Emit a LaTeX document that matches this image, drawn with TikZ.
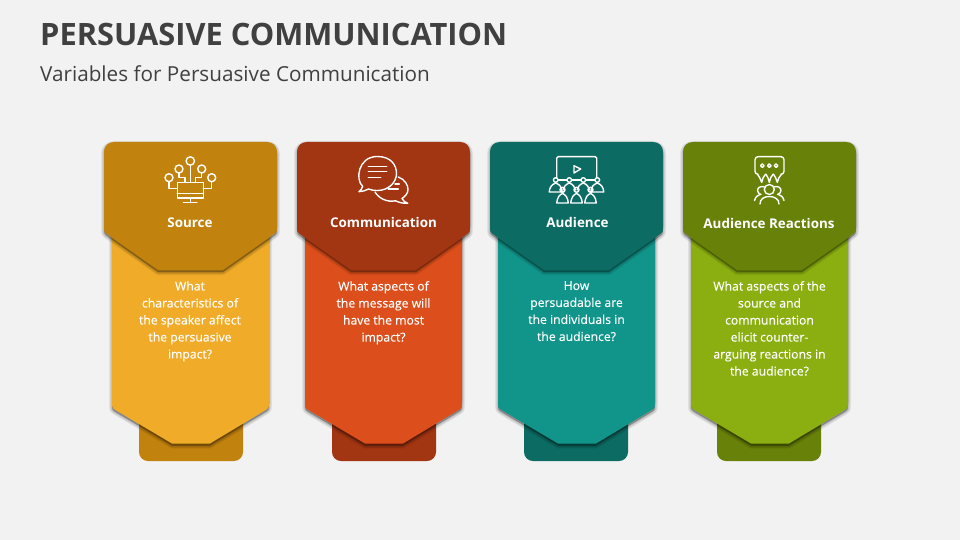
\documentclass[tikz,border=0pt]{standalone}
\usepackage{fontspec}
\setmainfont{Open Sans}
\newfontfamily\semi[FakeBold=0.25]{Open Sans}
\definecolor{bg}{HTML}{F2F2F2}
\definecolor{ink}{HTML}{404040}
\definecolor{darkA}{HTML}{C2820E}\definecolor{lightA}{HTML}{F0AB28}
\definecolor{darkB}{HTML}{A23512}\definecolor{lightB}{HTML}{DC4E1B}
\definecolor{darkC}{HTML}{0C6B63}\definecolor{lightC}{HTML}{11958B}
\definecolor{darkD}{HTML}{688109}\definecolor{lightD}{HTML}{8BAF10}
\tikzset{
  titletext/.style={anchor=west,inner sep=0pt,text=ink,font=\bfseries\fontsize{30.8}{36}\selectfont},
  subtitletext/.style={anchor=west,inner sep=0pt,text=ink,font=\fontsize{20.7}{24}\selectfont},
  headtext/.style={inner sep=0pt,text=white,font=\bfseries\fontsize{13.4}{16}\selectfont},
  bodytext/.style={inner sep=0pt,text=white,align=center,font=\semi\fontsize{12.2}{17}\selectfont},
  icon/.style={draw=white,line width=1.4pt,line cap=round,line join=round},
}
% soft shadow of a closed path given as #1
\newcommand{\softshadow}[1]{%
  \fill[black,opacity=.30,yshift=-2pt] #1;
  \foreach \w in {1.5,3,4.5,6}{\draw[black,opacity=.06,line join=round,line width=\w pt,yshift=-2pt] #1;}
}
\newcommand{\bodypath}{(8,50) -- (8,260) .. controls (8,266) .. (13.2,269.1) -- (68,301.5) -- (106,301.5) -- (159.9,269.1) .. controls (165,266) .. (165,260) -- (165,50) -- cycle}
\newcommand{\headpath}{(0,10) .. controls (0,4) and (4,0) .. (10,0) -- (163,0) .. controls (169,0) and (173,4) .. (173,10) -- (173,84) .. controls (173,90) .. (168.1,93.5) -- (119,128) -- (54,128) -- (4.9,93.5) .. controls (0,90) .. (0,84) -- cycle}
% #1 x offset, #2 dark, #3 light, #4 left edge of the tab
\newcommand{\card}[4]{%
  \begin{scope}[shift={(#1,142)}]
    \fill[#2] (#4,270) -- (#4,310) .. controls (#4,315) and (#4+4,319) .. (#4+9,319) -- (#4+95,319) .. controls (#4+100,319) and (#4+104,315) .. (#4+104,310) -- (#4+104,270) -- cycle;
    \softshadow{\bodypath}
    \fill[#3] \bodypath;
    \softshadow{\headpath}
    \fill[#2] \headpath;
  \end{scope}
}
\begin{document}
\begin{tikzpicture}[x=1pt,y=-1pt]
\useasboundingbox (0,0) rectangle (960,540);
\fill[bg] (0,0) rectangle (960,540);
\node[titletext] (title) at (40,34) {PERSUASIVE COMMUNICATION};
\node[subtitletext] (subtitle) at (40,74) {Variables for Persuasive Communication};

\card{104}{darkA}{lightA}{35}
\card{297}{darkB}{lightB}{35}
\card{490}{darkC}{lightC}{34}
\card{683}{darkD}{lightD}{34}

\node[headtext] (h1) at (190,223) {Source};
\node[headtext] (h2) at (383.5,222.5) {Communication};
\node[headtext] (h3) at (577.5,222) {Audience};
\node[headtext] (h4) at (769,223) {Audience Reactions};

\node[bodytext,anchor=north] (b1) at (190,281) {What\\characteristics of\\the speaker affect\\the persuasive\\impact?};
\node[bodytext,anchor=north] (b2) at (383.5,281) {What aspects of\\the message will\\have the most\\impact?};
\node[bodytext,anchor=north] (b3) at (576.5,281) {How\\persuadable are\\the individuals in\\the audience?};
\node[bodytext,anchor=north] (b4) at (769.5,281) {What aspects of the\\source and\\communication\\elicit counter-\\arguing reactions in\\the audience?};

% icon 1: monitor network
\begin{scope}[icon]
\draw (190.3,161) circle (4.2);
\draw (179,169) circle (4);
\draw (201.7,169) circle (4);
\draw (169,177.7) circle (4);
\draw (211.7,177.7) circle (4);
\draw (177.3,182.3) rectangle (203.3,198);
\draw (177.3,193.5) -- (203.3,193.5);
\draw (190.3,165.2) -- (190.3,182.3);
\draw (179,173) -- (179,177.5) -- (185,177.5) -- (185,182.3);
\draw (201.7,173) -- (201.7,177.5) -- (195.5,177.5) -- (195.5,182.3);
\draw (169,181.7) -- (169,188.5) -- (177.3,188.5);
\draw (211.7,181.7) -- (211.7,188.5) -- (203.3,188.5);
\draw (190.3,198) -- (190.3,202.7);
\draw (183.5,202.7) -- (197,202.7);
\end{scope}

% icon 2: speech bubbles
\begin{scope}[icon]
\draw (362.7,186.3) .. controls (355,180) and (358,156.5) .. (377.3,156.5)
  .. controls (391,156.5) and (396.5,165) .. (396.5,173.5)
  .. controls (396.5,182) and (389,190.5) .. (377.3,190.5)
  .. controls (373.5,190.5) and (371,190) .. (368.5,189)
  .. controls (366,190.5) and (362.5,191.5) .. (359,191.7)
  .. controls (361,190) and (362,188.5) .. (362.7,186.3);
\draw (368.3,166.7) -- (386.7,166.7);
\draw (368.3,171.7) -- (386.7,171.7);
\draw (368.3,177.3) -- (380.7,177.3);
\draw (398.3,177) .. controls (405,179.5) and (408,185) .. (408,189.5)
  .. controls (408,193.5) and (405,196.5) .. (402,198.5)
  .. controls (403,200.5) and (405,202.5) .. (407.7,203.3)
  .. controls (403,203.5) and (399,202.5) .. (395.5,200.8)
  .. controls (387,202.5) and (379,198.5) .. (375,192);
\draw (388.3,189) -- (398.3,189);
\draw (395,184) -- (399.3,184);
\end{scope}

% icon 3: presentation audience
\begin{scope}[icon]
\draw[rounded corners=1.5pt] (556.7,178) -- (556.7,156.7) -- (596.7,156.7) -- (596.7,178);
\draw (574,165.7) -- (574,173) -- (580.7,169) -- cycle;
\foreach \x in {555.7,569.3,583.3,597.3}{\draw (\x,180) circle (2.3);}
\draw (558,180) -- (567,180) (571.6,180) -- (581,180) (585.6,180) -- (595,180);
% upper row of shoulders
\foreach \x in {555.7,597.3}{
  \draw (\x-6.5,192) .. controls (\x-6,187) and (\x-4,184.5) .. (\x,183) .. controls (\x+4,184.5) and (\x+6,187) .. (\x+6.5,192) -- cycle;
}
\foreach \x in {569.3,583.3}{
  \draw (\x-6.2,190) .. controls (\x-5.5,187) and (\x-4,184.5) .. (\x,183) .. controls (\x+4,184.5) and (\x+5.5,187) .. (\x+6.2,190);
}
\foreach \x in {562.5,576.5,590.5}{\draw (\x,189.8) circle (2.5);}
% lower row of shoulders
\foreach \x in {562.5,576.5,590.5}{
  \draw (\x-5.8,203) .. controls (\x-5.2,197.5) and (\x-3,194.5) .. (\x,193.5) .. controls (\x+3,194.5) and (\x+5.2,197.5) .. (\x+5.8,203) -- cycle;
}
\end{scope}

% icon 4: bubble and people
\begin{scope}[icon]
\draw[rounded corners=3pt] (757.5,174.3) -- (755,174.3) -- (755,156.7) -- (784,156.7) -- (784,174.3) -- (781.5,174.3);
\draw (757.5,174.3) .. controls (759,176) and (760.5,179) .. (761.7,182.3) .. controls (762.5,179) and (763.5,176) .. (765.5,174.3);
\draw (765.5,174.3) -- (766,174.3) .. controls (767.5,176) and (768.5,179) .. (769.3,182.3) .. controls (770,179) and (771,176) .. (773,174.3) -- (773.5,174.3);
\draw (773.5,174.3) .. controls (775,176) and (776.3,179) .. (777.3,182.3) .. controls (778,179) and (779.5,176) .. (781.5,174.3);
\foreach \x in {762.3,769.3,776}{\draw (\x,165.7) circle (1.8);}
\draw (769.3,189.5) circle (5);
\draw (760,204) .. controls (760,199) and (764,196.5) .. (769.3,196.5) .. controls (774.5,196.5) and (779,199) .. (779,204);
\draw (764.5,187) .. controls (761,185.5) and (757.5,187.5) .. (757.5,190.5) .. controls (757.5,192.5) and (759,194) .. (761,194.5);
\draw (774,187) .. controls (777.5,185.5) and (781,187.5) .. (781,190.5) .. controls (781,192.5) and (779.5,194) .. (777.5,194.5);
\draw (754.5,200.5) .. controls (755.5,197) and (757.5,195) .. (760,194.5);
\draw (784,200.5) .. controls (783,197) and (781,195) .. (778.5,194.5);
\end{scope}
\end{tikzpicture}
\end{document}
